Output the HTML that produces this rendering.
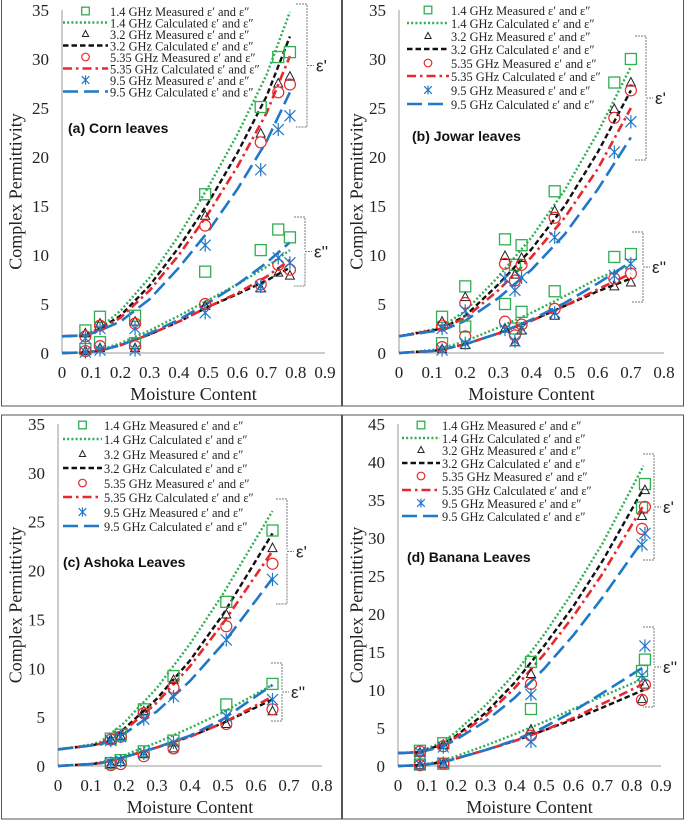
<!DOCTYPE html>
<html><head><meta charset="utf-8">
<style>
html,body{margin:0;padding:0;background:#fff;}
svg{display:block;}
text{font-family:"Liberation Serif",serif;}
.sans{font-family:"Liberation Sans",sans-serif;}
</style></head>
<body>
<svg id="chart" width="685" height="821" viewBox="0 0 685 821"></svg>
<script>
// ---------- Panel (a) Corn leaves ----------
const aMx = [0.08,0.13,0.25,0.49,0.68,0.74,0.78];
const aM14r = [2.3,3.7,3.8,16.2,25.1,30.2,30.7];
const aM14i = [0.4,1.1,1.0,8.3,10.5,12.6,11.8];
const aM32r = [2.0,3.0,3.2,14.0,22.4,27.5,28.2];
const aM32i = [0.2,0.5,0.5,4.8,6.6,8.2,7.9];
const aM535r = [1.7,2.8,3.0,13.0,21.5,26.6,27.4];
const aM535i = [0.2,0.7,0.7,5.0,7.0,9.0,8.5];
const aM95r = [1.5,2.5,2.5,11.0,18.7,22.8,24.2];
const aM95i = [0.1,0.3,0.3,4.1,6.8,9.7,9.2];
const aCx = [0,0.08,0.13,0.2,0.3,0.4,0.5,0.6,0.7,0.78];
const aC14r = [1.7,1.8,2.6,4.3,7.7,12.0,16.9,22.3,28.4,34.8];
const aC32r = [1.7,1.8,2.5,3.8,6.9,10.8,15.3,20.4,26.2,32.3];
const aC535r = [1.7,1.8,2.4,3.6,6.4,10.0,14.2,19.0,24.5,30.3];
const aC95r = [1.7,1.8,2.3,3.2,5.5,8.7,12.4,16.7,21.6,26.6];
const aC14i = [0,0.05,0.3,1.0,2.3,3.8,5.4,7.0,8.8,10.5];
const aC32i = [0,0.05,0.25,0.8,1.9,3.2,4.7,6.0,7.4,8.7];
const aC535i = [0,0.05,0.25,0.8,1.9,3.2,4.7,6.1,7.8,9.5];
const aC95i = [0,0.05,0.25,0.8,2.0,3.4,5.1,7.0,9.2,11.3];
// ---------- Panel (b) Jowar leaves ----------
const bMx = [0.13,0.20,0.32,0.35,0.37,0.47,0.65,0.70];
const bM14r = [3.7,6.8,11.6,9.0,11.0,16.5,27.6,30.0];
const bM14i = [1.0,2.7,5.0,2.5,4.2,6.3,9.8,10.1];
const bM32r = [3.2,5.7,9.9,8.0,9.7,14.5,24.9,27.6];
const bM32i = [0.4,0.8,2.5,1.1,2.3,3.8,6.8,7.2];
const bM535r = [2.8,5.1,9.1,7.4,9.0,13.8,24.0,26.8];
const bM535i = [0.6,1.7,3.2,1.8,2.9,4.5,7.6,8.1];
const bM95r = [2.5,4.3,7.6,6.4,7.7,11.8,20.5,23.6];
const bM95i = [0.3,1.0,2.4,1.2,2.5,4.1,7.9,9.1];
const bCx = [0,0.1,0.13,0.2,0.3,0.4,0.5,0.6,0.7];
const bC14r = [1.7,2.4,2.7,4.3,7.8,11.8,16.6,22.5,29.2];
const bC32r = [1.7,2.3,2.5,3.8,7.0,10.6,15.0,20.5,26.8];
const bC535r = [1.7,2.3,2.5,3.6,6.4,9.8,13.8,18.8,25.0];
const bC95r = [1.7,2.2,2.3,3.3,5.6,8.5,12.1,16.7,22.0];
const bC14i = [0,0.3,0.5,1.2,2.6,4.1,5.8,7.6,9.0];
const bC32i = [0,0.2,0.35,0.9,2.0,3.3,4.8,6.3,7.6];
const bC535i = [0,0.2,0.35,0.9,2.0,3.3,4.8,6.5,8.1];
const bC95i = [0,0.2,0.35,0.9,2.0,3.4,5.1,7.1,9.3];
// ---------- Panel (c) Ashoka leaves ----------
const cMx = [0.16,0.19,0.26,0.35,0.51,0.65];
const cM14r = [2.8,3.2,5.8,9.2,16.8,24.1];
const cM14i = [0.3,0.6,1.5,2.6,6.3,8.4];
const cM32r = [2.7,3.1,5.6,8.8,15.5,22.3];
const cM32i = [0.2,0.4,1.2,1.8,4.3,5.6];
const cM535r = [2.7,3.0,5.4,8.0,14.3,20.7];
const cM535i = [0.1,0.2,1.0,1.8,4.3,5.8];
const cM95r = [2.6,3.0,4.8,7.1,12.9,19.1];
const cM95i = [0.3,0.5,1.3,2.4,5.1,6.8];
const cCx = [0,0.1,0.13,0.2,0.3,0.4,0.5,0.65];
const cC14r = [1.7,2.2,2.5,4.4,8.0,12.5,17.6,26.1];
const cC32r = [1.7,2.1,2.3,3.8,6.9,10.8,15.5,23.8];
const cC535r = [1.7,2.1,2.3,3.6,6.5,10.2,14.6,22.0];
const cC95r = [1.7,2.1,2.2,3.3,5.6,8.7,12.5,19.2];
const cC14i = [0,0.2,0.4,1.1,2.4,3.9,5.5,8.3];
const cC32i = [0,0.2,0.3,0.9,1.9,3.0,4.4,6.8];
const cC535i = [0,0.2,0.3,0.9,1.9,3.0,4.4,7.1];
const cC95i = [0,0.2,0.3,0.9,1.9,3.1,4.8,8.3];
// ---------- Panel (d) Banana leaves ----------
const dMx = [0.075,0.155,0.455,0.835,0.845];
const dM14r = [2.0,3.0,13.7,34.0,37.1];
const dM14i = [0.2,0.3,7.5,12.5,14.0];
const dM32r = [1.8,2.8,12.1,32.9,36.3];
const dM32i = [0.1,0.3,4.8,8.8,10.7];
const dM535r = [1.9,2.6,10.8,31.2,34.1];
const dM535i = [0.1,0.3,4.0,8.7,10.7];
const dM95r = [1.8,2.5,9.4,29.1,30.6];
const dM95i = [0.2,0.4,3.2,11.9,15.8];
const dCx = [0,0.075,0.155,0.2,0.3,0.4,0.5,0.6,0.7,0.84];
const dC14r = [1.7,1.9,3.2,4.5,8.0,12.2,17.3,23.0,29.3,39.5];
const dC32r = [1.7,1.8,2.9,4.0,7.0,11.0,15.8,21.0,27.0,36.5];
const dC535r = [1.7,1.8,2.8,3.8,6.6,10.3,14.7,19.7,25.3,34.3];
const dC95r = [1.7,1.8,2.6,3.5,5.9,9.0,12.8,17.2,22.2,29.8];
const dC14i = [0,0.1,0.7,1.3,2.7,4.2,5.8,7.5,9.2,11.5];
const dC32i = [0,0.1,0.5,1.0,2.1,3.3,4.7,6.1,7.7,10.0];
const dC535i = [0,0.1,0.5,1.0,2.1,3.3,4.7,6.3,8.2,10.8];
const dC95i = [0,0.1,0.5,1.0,2.1,3.4,5.1,7.2,9.6,13.0];

const legendLabels = ["1.4 GHz Measured ε′ and ε″","1.4 GHz Calculated ε′ and ε″","3.2 GHz Measured ε′ and ε″","3.2 GHz Calculated ε′ and ε″","5.35 GHz Measured ε′ and ε″","5.35 GHz Calculated ε′ and ε″","9.5 GHz Measured ε′ and ε″","9.5 GHz Calculated ε′ and ε″"];

const NS="http://www.w3.org/2000/svg";
const svg=document.getElementById('chart');
function mk(tag,attrs,parent){const e=document.createElementNS(NS,tag);for(const k in attrs)e.setAttribute(k,attrs[k]);(parent||svg).appendChild(e);return e;}

const GREEN="#2fae52", RED="#e8282c", BLUE="#1f78c8", BLACK="#111";
const styles=[
 {c:GREEN,dash:"2,2.2",w:2.4,m:"square"},
 {c:BLACK,dash:"5.5,3",w:2.4,m:"tri"},
 {c:RED,dash:"9,4,2.5,4",w:2.6,m:"circle"},
 {c:BLUE,dash:"15,6",w:2.6,m:"star"}
];

function marker(g,type,x,y,c,s){
  let e;
  if(type==="square"){e=mk('rect',{x:x-s,y:y-s,width:2*s,height:2*s,fill:"none",stroke:c,"stroke-width":1.3},g);}
  else if(type==="tri"){e=mk('path',{d:`M${x},${y-s} L${x+s*0.9},${y+s*0.7} L${x-s*0.9},${y+s*0.7}Z`,fill:"none",stroke:"#222","stroke-width":1},g);}
  else if(type==="circle"){e=mk('circle',{cx:x,cy:y,r:s,fill:"none",stroke:c,"stroke-width":1.2},g);}
  else {e=mk('path',{d:`M${x-s},${y-s}L${x+s},${y+s}M${x-s},${y+s}L${x+s},${y-s}M${x},${y-s*1.2}L${x},${y+s*1.2}`,fill:"none",stroke:c,"stroke-width":1.2},g);}
  return e;
}

function panel(p){
  const g=mk('g',{});
  
  
  const frame=mk('rect',{x:p.fx,y:p.fy,width:p.fw,height:p.fh,fill:"none",stroke:"#555","stroke-width":1},g);
  
  
  const sx=v=>p.x0+(v/p.xmax)*(p.x1-p.x0);
  const sy=v=>p.y0-(v/p.ymax)*(p.y0-p.y1);
  const ya=mk('line',{x1:p.x0,y1:p.y1,x2:p.x0,y2:p.y0,stroke:"#999","stroke-width":1},g);
  
  
  const xa=mk('line',{x1:p.x0,y1:p.y0,x2:p.x1,y2:p.y0,stroke:"#999","stroke-width":1},g);
  
  
  for(let v=0;v<=p.ymax+1e-9;v+=5){
    const t=mk('text',{x:p.x0-13,y:sy(v)+6,"text-anchor":"end","font-size":17,fill:"#222"},g);t.textContent=v;
    
    
  }
  for(let i=0;i<=Math.round(p.xmax*10);i++){
    const v=i/10;
    const t=mk('text',{x:sx(v),y:p.y0+25,"text-anchor":"middle","font-size":17,fill:"#222"},g);t.textContent=(i===0?"0":v.toFixed(1));
    
    
  }
  const yt=mk('text',{x:0,y:0,"text-anchor":"middle","font-size":18,fill:"#222",transform:`translate(${p.fx+20},${(p.y0+p.y1)/2+10}) rotate(-90)`},g);yt.textContent="Complex Permittivity";
  
  
  const xt=mk('text',{x:(p.x0+p.x1)/2,y:p.y0+47,"text-anchor":"middle","font-size":18,fill:"#222"},g);xt.textContent="Moisture Content";
  
  
  p.calc.forEach((arrs,si)=>{
    const st=styles[si];
    arrs.forEach((ys,k)=>{
      const d=p.cx.map((x,i)=>(i?"L":"M")+sx(x).toFixed(1)+","+sy(ys[i]).toFixed(1)).join(" ");
      const l=mk('path',{d:d,fill:"none",stroke:st.c,"stroke-width":st.w,"stroke-dasharray":st.dash},g);
      
      
    });
  });
  p.meas.forEach((arrs,si)=>{
    const st=styles[si];
    arrs.forEach(ys=>{
      p.mx.forEach((x,i)=>{
        const m=marker(g,st.m,sx(x),sy(ys[i]),st.c,st.m==="tri"?5:5.5);
        
        
      });
    });
  });
  const lg=mk('g',{},g);
  
  
  legendLabels.forEach((lab,i)=>{
    const y=p.ly[i]; const st=styles[Math.floor(i/2)];
    if(i%2===0){const m=marker(lg,st.m,(p.lx0+p.lx1)/2,y-1,st.c,st.m==="tri"?3.5:3.8);}
    else{const l=mk('line',{x1:p.lx0,y1:y-1,x2:p.lx1,y2:y-1,stroke:st.c,"stroke-width":st.w,"stroke-dasharray":st.dash},lg);}
    const t=mk('text',{x:p.lx1+2,y:y+4,"font-size":p.lfs,fill:"#222"},lg);t.textContent=lab;
    
    
  });
  const tt=mk('text',{x:p.tx,y:p.ty,"font-size":14,"font-weight":"bold",fill:"#111",class:"sans"},g);tt.textContent=p.title;
  
  
  p.braces.forEach(b=>{
    const mid=(b.t+b.b)/2;
    const br=mk('path',{d:`M${b.x-11},${b.t} L${b.x},${b.t} L${b.x},${mid-2} M${b.x},${mid+2} L${b.x},${b.b} L${b.x-11},${b.b} M${b.x},${mid} L${b.x+7},${mid}`,fill:"none",stroke:"#777","stroke-width":1,"stroke-dasharray":"2,1"},g);
    
    
    const t=mk('text',{x:b.x+9,y:mid+6,"font-size":17,fill:"#222",class:"sans"},g);t.textContent=b.lab;
    
    
  });
}

panel({name:'panel-corn',fx:1.5,fy:-1,fw:340,fh:407,x0:62,x1:325,y0:353,y1:10,xmax:0.9,ymax:35,
  mx:aMx,meas:[[aM14r,aM14i],[aM32r,aM32i],[aM535r,aM535i],[aM95r,aM95i]],
  cx:aCx,calc:[[aC14r,aC14i],[aC32r,aC32i],[aC535r,aC535i],[aC95r,aC95i]],
  ly:[12,23.5,35,46.5,58,69.5,81,92.5],lx0:63,lx1:108,lfs:12.4,
  title:"(a) Corn leaves",tx:68,ty:133,
  braces:[{x:307,t:4,b:127,lab:"ε'"},{x:305,t:217,b:286,lab:"ε''"}]});
panel({name:'panel-jowar',fx:342.5,fy:-1,fw:341,fh:407,x0:399,x1:664,y0:353,y1:10,xmax:0.8,ymax:35,
  mx:bMx,meas:[[bM14r,bM14i],[bM32r,bM32i],[bM535r,bM535i],[bM95r,bM95i]],
  cx:bCx,calc:[[bC14r,bC14i],[bC32r,bC32i],[bC535r,bC535i],[bC95r,bC95i]],
  ly:[11,24,37,50,64,77,91,105],lx0:407,lx1:449,lfs:12.4,
  title:"(b) Jowar leaves",tx:412,ty:141,
  braces:[{x:646,t:36,b:160,lab:"ε'"},{x:643,t:232,b:302,lab:"ε''"}]});
panel({name:'panel-ashoka',fx:1.5,fy:415,fw:340,fh:404,x0:58,x1:322,y0:766,y1:424,xmax:0.8,ymax:35,
  mx:cMx,meas:[[cM14r,cM14i],[cM32r,cM32i],[cM535r,cM535i],[cM95r,cM95i]],
  cx:cCx,calc:[[cC14r,cC14i],[cC32r,cC32i],[cC535r,cC535i],[cC95r,cC95i]],
  ly:[426,440,455,469,484,498,513,527],lx0:63,lx1:102,lfs:12.4,
  title:"(c) Ashoka Leaves",tx:63,ty:567,
  braces:[{x:287,t:499,b:604,lab:"ε'"},{x:282,t:663,b:721,lab:"ε''"}]});
panel({name:'panel-banana',fx:342.5,fy:415,fw:341,fh:404,x0:398,x1:661,y0:766,y1:424,xmax:0.9,ymax:45,
  mx:dMx,meas:[[dM14r,dM14i],[dM32r,dM32i],[dM535r,dM535i],[dM95r,dM95i]],
  cx:dCx,calc:[[dC14r,dC14i],[dC32r,dC32i],[dC535r,dC535i],[dC95r,dC95i]],
  ly:[426,439,451,464,477,491,504,517],lx0:402,lx1:440,lfs:12.4,
  title:"(d) Banana Leaves",tx:407,ty:562,
  braces:[{x:654,t:454,b:560,lab:"ε'"},{x:654,t:627,b:707,lab:"ε''"}]});
</script>
</body></html>
